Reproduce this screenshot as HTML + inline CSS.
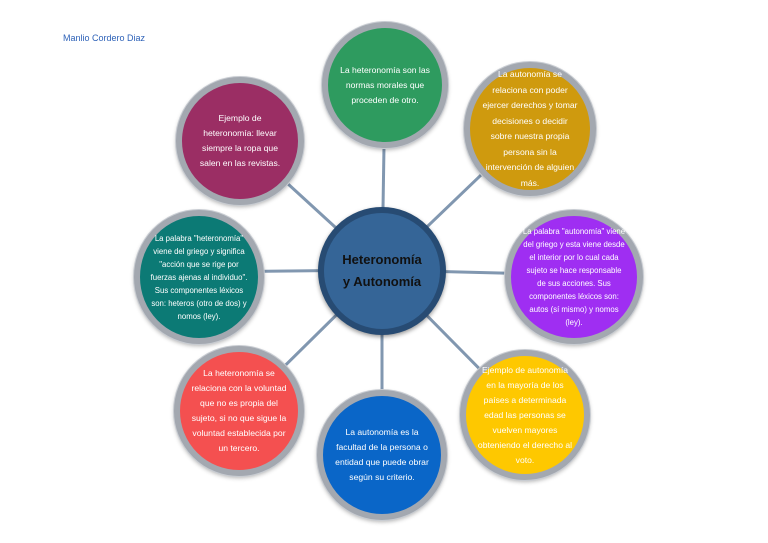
<!DOCTYPE html>
<html><head><meta charset="utf-8"><style>
body{margin:0;width:768px;height:543px;background:#fff;position:relative;overflow:hidden;font-family:"Liberation Sans",sans-serif}
.c{position:absolute;border-radius:50%;box-sizing:border-box;border:6px solid #a3a8b0;box-shadow:0 0 0 1px #c8ccd2,0 2px 4px rgba(0,0,0,.3);display:flex;align-items:center;justify-content:center;text-align:center;color:#fff;font-size:8.6px;line-height:15px}
.c span{display:block}
</style></head><body>
<div style="position:absolute;left:63px;top:33px;font-size:9px;color:#2e62b8">Manlio Cordero Diaz</div>
<svg width="768" height="543" style="position:absolute;left:0;top:0">
<g stroke="#8197b0" stroke-width="3">
<line x1="382" y1="270" x2="385" y2="85"/>
<line x1="382" y1="270" x2="240" y2="140"/>
<line x1="382" y1="270" x2="530" y2="128"/>
<line x1="382" y1="270" x2="574" y2="275"/>
<line x1="382" y1="270" x2="198" y2="272"/>
<line x1="382" y1="270" x2="525" y2="415"/>
<line x1="382" y1="270" x2="382" y2="455"/>
<line x1="382" y1="270" x2="238" y2="412"/>
</g></svg>
<div class="c" style="left:322px;top:22px;width:126px;height:126px;background:#2e9b5f"><span style="width:100px">La heteronomía son las normas morales que proceden de otro.</span></div>
<div class="c" style="left:176px;top:77px;width:128px;height:128px;background:#9b2e64"><span style="width:90px">Ejemplo de heteronomía: llevar siempre la ropa que salen en las revistas.</span></div>
<div class="c" style="left:464px;top:62px;width:132px;height:134px;background:#cf9a0e"><span style="width:96px;line-height:15.5px">La autonomía se relaciona con poder ejercer derechos y tomar decisiones o decidir sobre nuestra propia persona sin la intervención de alguien más.</span></div>
<div class="c" style="left:505px;top:210px;width:138px;height:134px;background:#9f2ef2"><span style="width:104px;font-size:7.8px;line-height:13px">La palabra "autonomía" viene del griego y esta viene desde el interior por lo cual cada sujeto se hace responsable de sus acciones. Sus componentes léxicos son: autos (sí mismo) y nomos (ley).</span></div>
<div class="c" style="left:134px;top:210px;width:130px;height:134px;background:#0c7a75"><span style="width:98px;font-size:7.8px;line-height:13px">La palabra "heteronomía" viene del griego y significa "acción que se rige por fuerzas ajenas al individuo". Sus componentes léxicos son: heteros (otro de dos) y nomos (ley).</span></div>
<div class="c" style="left:318px;top:207px;width:128px;height:128px;background:#356597;border-color:#274b73;box-shadow:0 2px 4px rgba(0,0,0,.4)"><span style="color:#111;font-weight:bold;font-size:13px;line-height:22px">Heteronomía<br>y Autonomía</span></div>
<div class="c" style="left:174px;top:346px;width:130px;height:130px;background:#f45050"><span style="width:96px">La heteronomía se relaciona con la voluntad que no es propia del sujeto, si no que sigue la voluntad establecida por un tercero.</span></div>
<div class="c" style="left:460px;top:350px;width:130px;height:130px;background:#fec800"><span style="width:96px">Ejemplo de autonomía en la mayoría de los países a determinada edad las personas se vuelven mayores obteniendo el derecho al voto.</span></div>
<div class="c" style="left:317px;top:390px;width:130px;height:130px;background:#0a66c8"><span style="width:100px">La autonomía es la facultad de la persona o entidad que puede obrar según su criterio.</span></div>
</body></html>
